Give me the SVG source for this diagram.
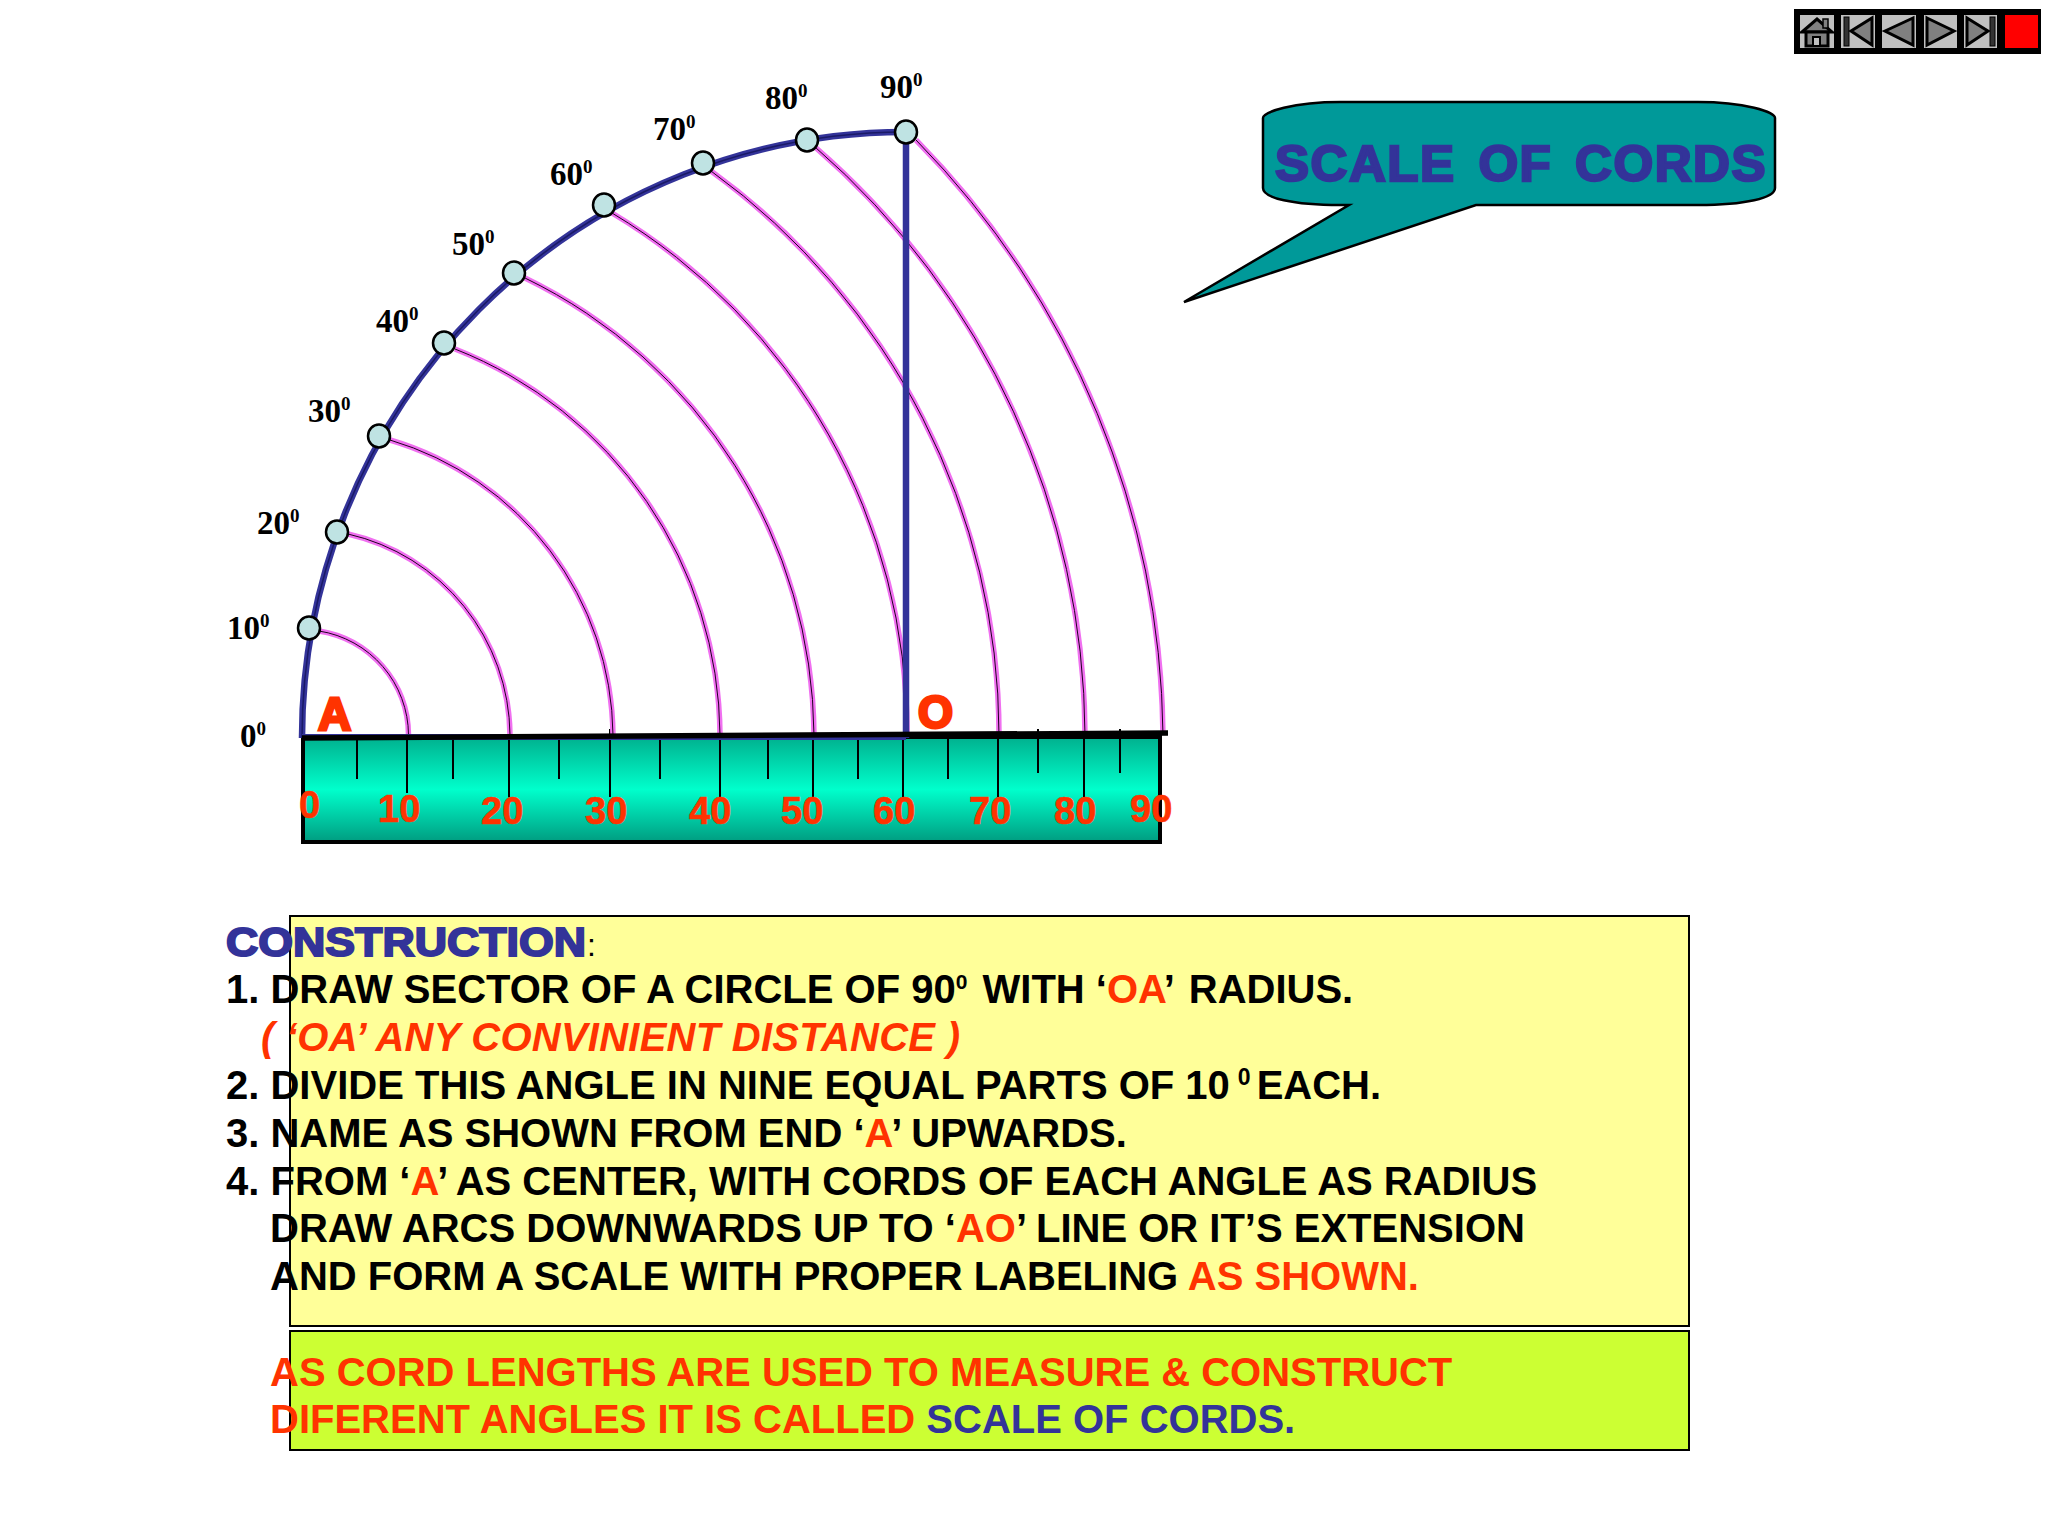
<svg xmlns="http://www.w3.org/2000/svg" width="2048" height="1536" viewBox="0 0 2048 1536">
<style>
.t{font-family:"Liberation Sans",Arial,sans-serif;font-weight:700;font-size:40px;fill:#000}
.r{fill:#ff3300}
.b{fill:#333399}
.sup{font-size:23px}
.sec{font-family:"Liberation Serif","Times New Roman",serif;font-weight:700;font-size:33px;fill:#000}
.num{font-family:"Liberation Sans",Arial,sans-serif;font-weight:700;font-size:38px;fill:#ff3300;stroke:#ff3300;stroke-width:.6}
.big{font-family:"Liberation Sans",Arial,sans-serif;font-weight:700;font-size:46px;fill:#ff3300;stroke:#ff3300;stroke-width:3}
.arcm{fill:none;stroke:#f070f0;stroke-width:5.5}
.arck{fill:none;stroke:#200020;stroke-width:1}
.tick{stroke:#000;stroke-width:2}
.pt{fill:#bfe3e3;stroke:#000;stroke-width:2.5}
.nb{fill:#c0c0c0}
.ni{fill:#808080;stroke:#000;stroke-width:3;stroke-linejoin:miter}
</style>
<defs>
<linearGradient id="rg" x1="0" y1="0" x2="0" y2="1">
<stop offset="0" stop-color="#00b08e"/><stop offset="0.5" stop-color="#00ffcc"/><stop offset="1" stop-color="#009c80"/>
</linearGradient>
</defs>
<rect width="2048" height="1536" fill="#fff"/>

<g id="nav">
<rect x="1794" y="9" width="247" height="45" fill="#000"/>
<g id="btn-home"><rect class="nb" x="1800" y="15" width="34" height="33"/>
<path class="ni" d="M1802 32 L1817 19 L1832 32 Z"/><rect x="1823" y="19" width="5" height="9" fill="#808080" stroke="#000" stroke-width="1.5"/>
<rect class="ni" x="1806" y="32" width="22" height="14"/><rect x="1813" y="37" width="7" height="9" fill="#c0c0c0" stroke="#000" stroke-width="2"/></g>
<g id="btn-first"><rect class="nb" x="1841" y="15" width="34" height="33"/><rect x="1844" y="17" width="5" height="29" fill="#333" stroke="#000"/><path class="ni" d="M1851 31 L1872 18 V45 Z"/></g>
<g id="btn-prev"><rect class="nb" x="1882" y="15" width="34" height="33"/><path class="ni" d="M1885 31 L1913 18 V45 Z"/></g>
<g id="btn-next"><rect class="nb" x="1924" y="15" width="33" height="33"/><path class="ni" d="M1927 18 L1954 31 L1927 45 Z"/></g>
<g id="btn-last"><rect class="nb" x="1964" y="15" width="33" height="33"/><path class="ni" d="M1967 18 L1988 31 L1967 45 Z"/><rect x="1990" y="17" width="5" height="29" fill="#333" stroke="#000"/></g>
<g id="btn-stop"><rect x="2005" y="15" width="33" height="33" fill="#ff0000"/></g>
</g>

<g id="callout">
<path d="M1340 102 H1698 C1745 102 1775 112 1775 118 V188 C1775 198 1745 205 1698 205 H1476 L1184 302 L1349 205 H1340 C1293 205 1263 198 1263 188 V118 C1263 112 1293 102 1340 102 Z" fill="#009999" stroke="#000" stroke-width="2.5" stroke-linejoin="miter"/>
<text x="1275" y="181" font-family="Liberation Sans,Arial,sans-serif" font-weight="700" font-size="50" fill="#333399" stroke="#333399" stroke-width="2.5" letter-spacing="1.5" word-spacing="7" textLength="492" lengthAdjust="spacingAndGlyphs">SCALE OF CORDS</text>
</g>

<g id="scale">
<rect x="303" y="737" width="857" height="105" fill="url(#rg)" stroke="#000" stroke-width="4"/>
<g id="ticks">
<path class="tick" d="M357 737V779M453 737V779M559 737V779M660 737V779M768 737V779M858 737V779M948 737V779M1038 729V773M1120 729V773"/>
<path class="tick" d="M407 737V793M509 737V797M610 729V797M720 733V797M813 733V797M903 733V797M998 733V797M1084 730V797"/>
</g>
<g id="scale-labels">
<text class="num" x="299" y="818">0</text>
<text class="num" x="378" y="822">10</text>
<text class="num" x="481" y="824">20</text>
<text class="num" x="585" y="824">30</text>
<text class="num" x="689" y="824">40</text>
<text class="num" x="781" y="824">50</text>
<text class="num" x="873" y="824">60</text>
<text class="num" x="969" y="824">70</text>
<text class="num" x="1054" y="824">80</text>
<text class="num" x="1130" y="822">90</text>
</g>
</g>

<g id="arcs">
<path id="a10" class="arcm" d="M319 631 A106 106 0 0 1 408.500 735"/>
<path class="arck" d="M319 631 A106 106 0 0 1 408.500 735"/>
<path id="a20" class="arcm" d="M348 534 A208 208 0 0 1 510 735"/>
<path class="arck" d="M348 534 A208 208 0 0 1 510 735"/>
<path id="a30" class="arcm" d="M390 440 A311 311 0 0 1 613 735"/>
<path class="arck" d="M390 440 A311 311 0 0 1 613 735"/>
<path id="a40" class="arcm" d="M455 349 A418 418 0 0 1 720 735"/>
<path class="arck" d="M455 349 A418 418 0 0 1 720 735"/>
<path id="a50" class="arcm" d="M525 278 A512 512 0 0 1 814 735"/>
<path class="arck" d="M525 278 A512 512 0 0 1 814 735"/>
<path id="a60" class="arcm" d="M612 213 A605 605 0 0 1 907 735"/>
<path class="arck" d="M612 213 A605 605 0 0 1 907 735"/>
<path id="a70" class="arcm" d="M711 171 A697 697 0 0 1 999 735"/>
<path class="arck" d="M711 171 A697 697 0 0 1 999 735"/>
<path id="a80" class="arcm" d="M815 147 A783 783 0 0 1 1085 735"/>
<path class="arck" d="M815 147 A783 783 0 0 1 1085 735"/>
<path id="a90" class="arcm" d="M916 140 A861 861 0 0 1 1163 735"/>
<path class="arck" d="M916 140 A861 861 0 0 1 1163 735"/>
</g>

<g id="quadrant">
<path d="M302 738 A604 606 0 0 1 906 132" fill="none" stroke="#333399" stroke-width="6.500"/>
<path d="M302 738 A604 606 0 0 1 906 132" fill="none" stroke="#1a1a66" stroke-width="1.500"/>
<path d="M906 132 V738" fill="none" stroke="#333399" stroke-width="6.500"/>
<path d="M302 737 H906" fill="none" stroke="#333399" stroke-width="6"/>
<path d="M302 738 L1168 733" fill="none" stroke="#000" stroke-width="5.500"/>
</g>

<g id="points">
<ellipse class="pt" cx="309" cy="628" rx="11" ry="11.500"/>
<ellipse class="pt" cx="337" cy="532" rx="11" ry="11.500"/>
<ellipse class="pt" cx="379" cy="436" rx="11" ry="11.500"/>
<ellipse class="pt" cx="444" cy="343" rx="11" ry="11.500"/>
<ellipse class="pt" cx="514" cy="273" rx="11" ry="11.500"/>
<ellipse class="pt" cx="604" cy="205" rx="11" ry="11.500"/>
<ellipse class="pt" cx="703" cy="163" rx="11" ry="11.500"/>
<ellipse class="pt" cx="807" cy="140" rx="11" ry="11.500"/>
<ellipse class="pt" cx="906" cy="132" rx="11" ry="11.500"/>
</g>

<g id="degree-labels">
<text class="sec" x="240" y="747">0<tspan font-size="19" dy="-12">0</tspan></text>
<text class="sec" x="227" y="639">10<tspan font-size="19" dy="-12">0</tspan></text>
<text class="sec" x="257" y="534">20<tspan font-size="19" dy="-12">0</tspan></text>
<text class="sec" x="308" y="422">30<tspan font-size="19" dy="-12">0</tspan></text>
<text class="sec" x="376" y="332">40<tspan font-size="19" dy="-12">0</tspan></text>
<text class="sec" x="452" y="255">50<tspan font-size="19" dy="-12">0</tspan></text>
<text class="sec" x="550" y="185">60<tspan font-size="19" dy="-12">0</tspan></text>
<text class="sec" x="653" y="140">70<tspan font-size="19" dy="-12">0</tspan></text>
<text class="sec" x="765" y="109">80<tspan font-size="19" dy="-12">0</tspan></text>
<text class="sec" x="880" y="98">90<tspan font-size="19" dy="-12">0</tspan></text>
</g>

<g id="point-names">
<text class="big" x="318" y="730">A</text>
<text class="big" x="918" y="728" textLength="35" lengthAdjust="spacingAndGlyphs">O</text>
</g>

<g id="boxes">
<rect x="290" y="916" width="1399" height="410" fill="#ffff99" stroke="#000" stroke-width="2"/>
<rect x="290" y="1331" width="1399" height="119" fill="#ccff33" stroke="#000" stroke-width="2"/>
</g>

<g id="text">
<text class="b" x="226" y="956" font-family="Liberation Sans,Arial,sans-serif" font-weight="700" font-size="41" stroke="#333399" stroke-width="2" textLength="360" lengthAdjust="spacingAndGlyphs">CONSTRUCTION</text>
<text class="t" x="587" y="956" style="font-size:32px;font-weight:400">:</text>
<text class="t" x="226" y="1003">1. DRAW SECTOR OF A CIRCLE OF 90<tspan class="sup" dy="-14" style="font-size:21px">0</tspan><tspan dx="4" dy="14"> WITH ‘</tspan><tspan class="r">OA</tspan><tspan dx="-1">’</tspan><tspan dx="5"> RADIUS.</tspan></text>
<text class="t r" x="261" y="1051" font-style="italic" textLength="699" lengthAdjust="spacing">( ‘OA’ ANY CONVINIENT DISTANCE )</text>
<text class="t" x="226" y="1099">2. DIVIDE THIS ANGLE IN NINE EQUAL PARTS OF 10<tspan class="sup" dx="8" dy="-14">0</tspan><tspan dx="6" dy="14">EACH.</tspan></text>
<text class="t" x="226" y="1147">3. NAME AS SHOWN FROM END ‘<tspan class="r">A</tspan>’ UPWARDS.</text>
<text class="t" x="226" y="1195">4. FROM ‘<tspan class="r">A</tspan>’ AS CENTER, WITH CORDS OF EACH ANGLE AS RADIUS</text>
<text class="t" x="270" y="1242">DRAW ARCS DOWNWARDS UP TO ‘<tspan class="r">AO</tspan>’ LINE OR IT’S EXTENSION</text>
<text class="t" x="270" y="1290">AND FORM A SCALE WITH PROPER LABELING <tspan class="r">AS SHOWN.</tspan></text>
<text class="t r" x="270" y="1386">AS CORD LENGTHS ARE USED TO MEASURE &amp; CONSTRUCT</text>
<text class="t r" x="270" y="1433">DIFERENT ANGLES IT IS CALLED <tspan class="b">SCALE OF CORDS.</tspan></text>
</g>
</svg>
